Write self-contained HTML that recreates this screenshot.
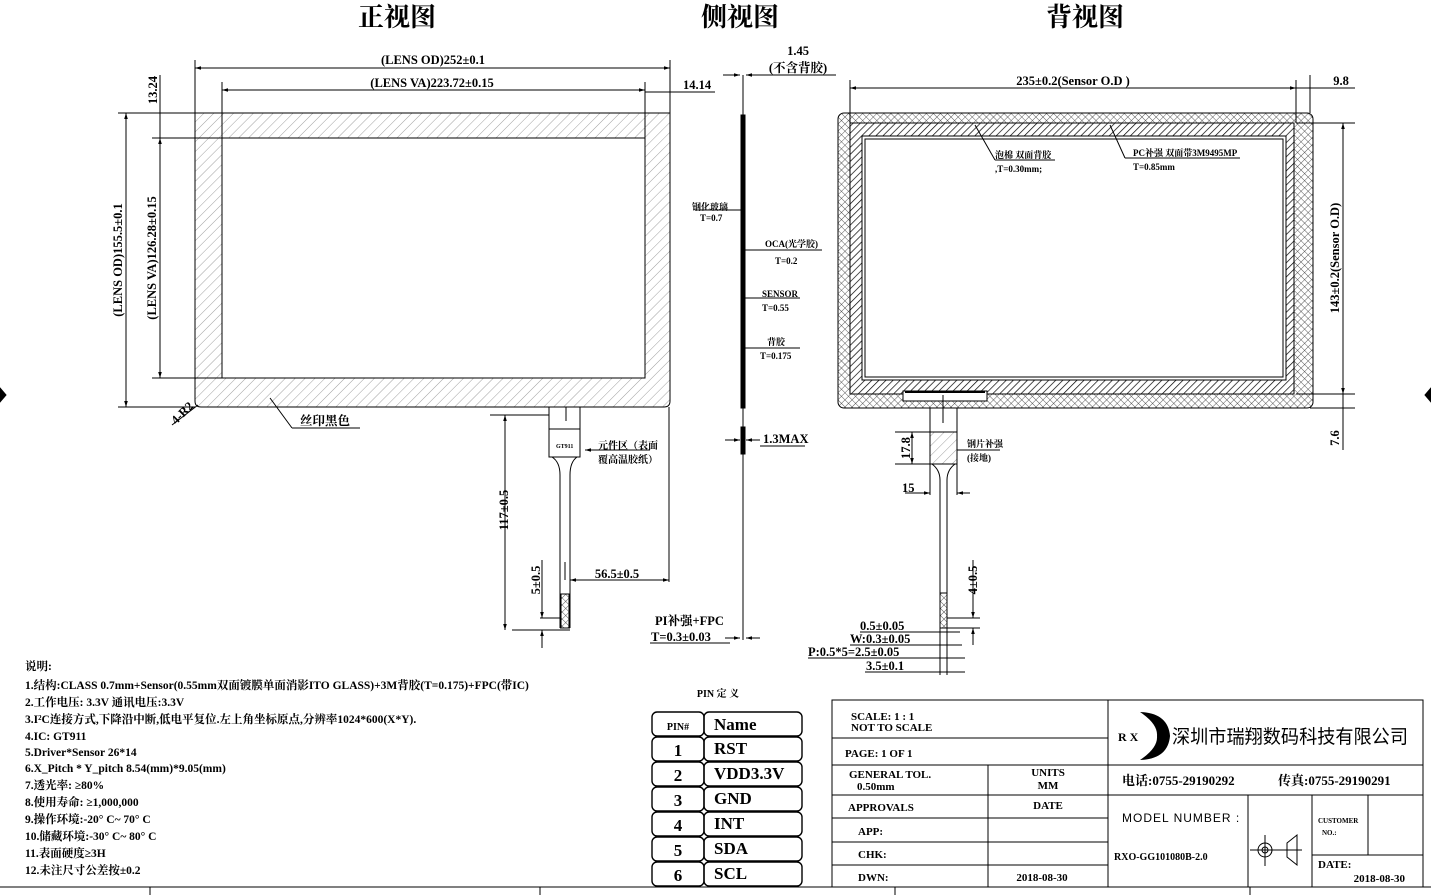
<!DOCTYPE html>
<html><head><meta charset="utf-8"><style>
html,body{margin:0;padding:0;background:#fff}
svg{display:block}
text{font-family:"Liberation Serif","Noto Serif CJK SC","Noto Sans CJK SC",serif;fill:#000}
.b{font-weight:bold}
</style></head><body>
<svg width="1431" height="895" viewBox="0 0 1431 895" xmlns="http://www.w3.org/2000/svg">
<defs>
<pattern id="h1" width="7" height="7" patternUnits="userSpaceOnUse" patternTransform="rotate(45)">
<line x1="0" y1="0" x2="0" y2="7" stroke="#888" stroke-width="0.8"/></pattern>
<pattern id="h2" width="5" height="5" patternUnits="userSpaceOnUse" patternTransform="rotate(45)">
<line x1="0" y1="0" x2="0" y2="5" stroke="#000" stroke-width="1.4"/></pattern>
<pattern id="x1" width="5" height="5" patternUnits="userSpaceOnUse" patternTransform="rotate(45)">
<line x1="0" y1="0" x2="0" y2="5" stroke="#333" stroke-width="0.8"/><line x1="0" y1="0" x2="5" y2="0" stroke="#333" stroke-width="0.8"/></pattern>
<marker id="a" viewBox="0 0 10 10" refX="10" refY="5" markerWidth="8" markerHeight="6" orient="auto-start-reverse"><path d="M0,2L10,5L0,8z" fill="#000"/></marker>
</defs>
<g stroke="#000" fill="none" stroke-width="1">
<path d="M0,388 L6,395 L0,402z M1431,388 L1425,395 L1431,402z" fill="#000"/>
<line x1="0" y1="887" x2="1431" y2="887"/>
<line x1="150" y1="887" x2="150" y2="895"/><line x1="540" y1="887" x2="540" y2="895"/><line x1="895" y1="887" x2="895" y2="895"/><line x1="1250" y1="887" x2="1250" y2="895"/>

<path d="M195,113 H670 V401 Q670,407 664,407 H201 Q195,407 195,401z M222,138 V378 H645 V138z" fill="url(#h1)" fill-rule="evenodd"/>
<rect x="222" y="138" width="423" height="240"/>
<line x1="195" y1="60" x2="195" y2="113"/><line x1="670" y1="60" x2="670" y2="113"/>
<line x1="195" y1="68" x2="670" y2="68" marker-start="url(#a)" marker-end="url(#a)"/>
<line x1="222" y1="82" x2="222" y2="138"/><line x1="645" y1="82" x2="645" y2="138"/>
<line x1="222" y1="90" x2="645" y2="90" marker-start="url(#a)" marker-end="url(#a)"/>
<line x1="645" y1="92" x2="715" y2="92"/>
<line x1="118" y1="113" x2="195" y2="113"/><line x1="118" y1="407" x2="195" y2="407"/>
<line x1="126" y1="113" x2="126" y2="407" marker-start="url(#a)" marker-end="url(#a)"/>
<line x1="152" y1="138" x2="222" y2="138"/><line x1="152" y1="378" x2="222" y2="378"/>
<line x1="160" y1="138" x2="160" y2="378" marker-start="url(#a)" marker-end="url(#a)"/>
<line x1="160" y1="75" x2="160" y2="138"/>
<line x1="172" y1="425" x2="198" y2="405"/>
<line x1="270" y1="398" x2="292" y2="428"/><line x1="292" y1="428" x2="360" y2="428"/>
<rect x="549" y="407" width="31" height="22"/><rect x="549" y="429" width="31" height="28"/>
<line x1="566" y1="407" x2="566" y2="421"/>
<path d="M552,457 Q560,462 560,475 V628 M577,457 Q570,462 570,475 V628"/>
<line x1="560" y1="628" x2="570" y2="628"/>
<rect x="561" y="594" width="8" height="34" fill="url(#x1)"/>
<line x1="512" y1="630" x2="570" y2="630"/>
<line x1="505" y1="415" x2="505" y2="630" marker-start="url(#a)" marker-end="url(#a)"/>
<line x1="490" y1="415" x2="549" y2="415"/>
<line x1="540" y1="618" x2="561" y2="618"/>
<line x1="542" y1="560" x2="542" y2="618" marker-end="url(#a)"/><line x1="542" y1="648" x2="542" y2="630" marker-end="url(#a)"/>
<line x1="669" y1="407" x2="669" y2="582"/>
<line x1="570" y1="580" x2="669" y2="580" marker-start="url(#a)" marker-end="url(#a)"/>
<line x1="565" y1="562" x2="565" y2="580"/>
<line x1="650" y1="450" x2="585" y2="450" marker-end="url(#a)"/>

<line x1="743" y1="75" x2="743" y2="640"/>
<rect x="741" y="115" width="4" height="293" fill="#000"/>
<rect x="741" y="427" width="4" height="27" fill="#000"/>
<line x1="723" y1="75" x2="740" y2="75" marker-end="url(#a)"/><line x1="770" y1="75" x2="746" y2="75" marker-end="url(#a)"/>
<line x1="746" y1="75" x2="836" y2="75"/>
<line x1="725" y1="440" x2="740" y2="440" marker-end="url(#a)"/><line x1="760" y1="440" x2="746" y2="440" marker-end="url(#a)"/>
<line x1="760" y1="446" x2="805" y2="446"/>
<line x1="725" y1="638" x2="740" y2="638" marker-end="url(#a)"/><line x1="760" y1="638" x2="746" y2="638" marker-end="url(#a)"/>
<line x1="650" y1="643" x2="730" y2="643"/>
<line x1="695" y1="210" x2="741" y2="210"/>
<line x1="745" y1="250" x2="822" y2="250"/>
<line x1="745" y1="298" x2="800" y2="298"/>
<line x1="745" y1="348" x2="800" y2="348"/>

<rect x="838" y="113" width="475" height="295" rx="6" fill="url(#x1)"/>
<rect x="850" y="123" width="444" height="271" fill="#fff"/>
<path d="M850,123 H1294 V394 H850z M862,136 V380 H1286 V136z" fill="url(#h2)" fill-rule="evenodd"/>
<rect x="862" y="136" width="424" height="244" fill="#fff"/>
<rect x="865" y="139" width="418" height="238"/>
<rect x="903" y="391" width="84" height="10" fill="#fff"/>
<line x1="905" y1="392" x2="985" y2="392" stroke-width="2"/>
<line x1="850" y1="80" x2="850" y2="123"/><line x1="1296" y1="80" x2="1296" y2="123"/><line x1="1310" y1="75" x2="1310" y2="113"/>
<line x1="850" y1="88" x2="1296" y2="88" marker-start="url(#a)" marker-end="url(#a)"/>
<line x1="1296" y1="88" x2="1355" y2="88"/>
<line x1="1296" y1="123" x2="1355" y2="123"/><line x1="1296" y1="394" x2="1355" y2="394"/><line x1="1310" y1="408" x2="1355" y2="408"/>
<line x1="1343" y1="123" x2="1343" y2="394" marker-start="url(#a)" marker-end="url(#a)"/>
<line x1="1343" y1="394" x2="1343" y2="450"/>
<line x1="975" y1="125" x2="995" y2="160"/><line x1="995" y1="160" x2="1055" y2="160"/>
<line x1="1110" y1="125" x2="1125" y2="158"/><line x1="1125" y1="158" x2="1240" y2="158"/>
<line x1="930" y1="408" x2="930" y2="432"/><line x1="957" y1="408" x2="957" y2="432"/>
<line x1="943" y1="395" x2="943" y2="423"/>
<rect x="930" y="432" width="27" height="32" fill="url(#h1)"/>
<path d="M932,464 Q940,470 940,480 V675 M955,464 Q947,470 947,480 V675"/>
<rect x="940" y="593" width="7" height="35" fill="url(#x1)"/>
<line x1="895" y1="432" x2="930" y2="432"/><line x1="895" y1="464" x2="930" y2="464"/>
<line x1="912" y1="432" x2="912" y2="464" marker-start="url(#a)" marker-end="url(#a)"/>
<line x1="957" y1="450" x2="1000" y2="450"/>
<line x1="930" y1="464" x2="930" y2="495"/><line x1="957" y1="464" x2="957" y2="495"/>
<line x1="905" y1="493" x2="930" y2="493" marker-end="url(#a)"/><line x1="970" y1="493" x2="957" y2="493" marker-end="url(#a)"/>
<line x1="947" y1="618" x2="980" y2="618"/><line x1="947" y1="628" x2="980" y2="628"/>
<line x1="973" y1="560" x2="973" y2="618" marker-end="url(#a)"/><line x1="973" y1="645" x2="973" y2="628" marker-end="url(#a)"/>
<line x1="860" y1="632" x2="960" y2="632"/><line x1="850" y1="645" x2="962" y2="645"/><line x1="808" y1="658" x2="965" y2="658"/><line x1="865" y1="672" x2="965" y2="672"/>
</g>

<text x="397" y="26" font-size="26" class="b" text-anchor="middle">正视图</text>
<text x="740" y="26" font-size="26" class="b" text-anchor="middle">侧视图</text>
<text x="1085" y="26" font-size="26" class="b" text-anchor="middle">背视图</text>

<g font-size="12.5" class="b">
<text x="433" y="64" text-anchor="middle">(LENS OD)252±0.1</text>
<text x="432" y="87" text-anchor="middle">(LENS VA)223.72±0.15</text>
<text x="697" y="89" text-anchor="middle">14.14</text>
<text transform="translate(157,90) rotate(-90)" text-anchor="middle">13.24</text>
<text transform="translate(122,260) rotate(-90)" text-anchor="middle">(LENS OD)155.5±0.1</text>
<text transform="translate(156,258) rotate(-90)" text-anchor="middle">(LENS VA)126.28±0.15</text>
<text transform="translate(176,425) rotate(-45)">4-R2</text>
<text x="300" y="425">丝印黑色</text>
<text x="556" y="448" font-size="6">GT911</text>
<text x="598" y="449" font-size="10">元件区（表面</text>
<text x="598" y="463" font-size="10">覆高温胶纸）</text>
<text transform="translate(508,510) rotate(-90)" text-anchor="middle">117±0.5</text>
<text transform="translate(540,580) rotate(-90)" text-anchor="middle">5±0.5</text>
<text x="617" y="578" text-anchor="middle">56.5±0.5</text>
<text x="798" y="55" text-anchor="middle">1.45</text>
<text x="798" y="72" text-anchor="middle">(不含背胶)</text>
<text x="692" y="210" font-size="9">钢化玻璃</text>
<text x="700" y="221" font-size="9">T=0.7</text>
<text x="765" y="247" font-size="9">OCA(光学胶)</text>
<text x="775" y="264" font-size="9">T=0.2</text>
<text x="762" y="297" font-size="9">SENSOR</text>
<text x="762" y="311" font-size="9">T=0.55</text>
<text x="767" y="345" font-size="9">背胶</text>
<text x="760" y="359" font-size="9">T=0.175</text>
<text x="763" y="443">1.3MAX</text>
<text x="655" y="625">PI补强+FPC</text>
<text x="651" y="641">T=0.3±0.03</text>
<text x="1073" y="85" text-anchor="middle">235±0.2(Sensor O.D )</text>
<text x="1341" y="85" text-anchor="middle">9.8</text>
<text transform="translate(1339,258) rotate(-90)" text-anchor="middle">143±0.2(Sensor O.D)</text>
<text transform="translate(1339,438) rotate(-90)" text-anchor="middle">7.6</text>
<text x="995" y="158" font-size="9">泡棉 双面背胶</text>
<text x="995" y="172" font-size="9">,T=0.30mm;</text>
<text x="1133" y="156" font-size="9">PC补强 双面带3M9495MP</text>
<text x="1133" y="170" font-size="9">T=0.85mm</text>
<text transform="translate(910,448) rotate(-90)" text-anchor="middle">17.8</text>
<text x="967" y="447" font-size="9">钢片补强</text>
<text x="967" y="461" font-size="9">(接地)</text>
<text x="902" y="492">15</text>
<text transform="translate(977,580) rotate(-90)" text-anchor="middle">4±0.5</text>
<text x="860" y="630">0.5±0.05</text>
<text x="850" y="643">W:0.3±0.05</text>
<text x="808" y="656">P:0.5*5=2.5±0.05</text>
<text x="866" y="670">3.5±0.1</text>
</g>

<g font-size="11.5" class="b">
<text x="25" y="670">说明:</text>
<text x="25" y="689">1.结构:CLASS 0.7mm+Sensor(0.55mm双面镀膜单面消影ITO GLASS)+3M背胶(T=0.175)+FPC(带IC)</text>
<text x="25" y="706">2.工作电压: 3.3V  通讯电压:3.3V</text>
<text x="25" y="723">3.I²C连接方式,下降沿中断,低电平复位.左上角坐标原点,分辨率1024*600(X*Y).</text>
<text x="25" y="740">4.IC: GT911</text>
<text x="25" y="756">5.Driver*Sensor 26*14</text>
<text x="25" y="772">6.X_Pitch * Y_pitch 8.54(mm)*9.05(mm)</text>
<text x="25" y="789">7.透光率: ≥80%</text>
<text x="25" y="806">8.使用寿命: ≥1,000,000</text>
<text x="25" y="823">9.操作环境:-20° C~ 70° C</text>
<text x="25" y="840">10.储藏环境:-30° C~ 80° C</text>
<text x="25" y="857">11.表面硬度≥3H</text>
<text x="25" y="874">12.未注尺寸公差按±0.2</text>
</g>

<text x="718" y="697" font-size="10" class="b" text-anchor="middle">PIN 定 义</text>
<g stroke="#000" fill="none" stroke-width="1.4">
<rect x="652" y="712" width="52" height="24" rx="5"/><rect x="704" y="712" width="98" height="24" rx="5"/>
<rect x="652" y="737" width="52" height="24" rx="5"/><rect x="704" y="737" width="98" height="24" rx="5"/>
<rect x="652" y="762" width="52" height="24" rx="5"/><rect x="704" y="762" width="98" height="24" rx="5"/>
<rect x="652" y="787" width="52" height="24" rx="5"/><rect x="704" y="787" width="98" height="24" rx="5"/>
<rect x="652" y="812" width="52" height="24" rx="5"/><rect x="704" y="812" width="98" height="24" rx="5"/>
<rect x="652" y="837" width="52" height="24" rx="5"/><rect x="704" y="837" width="98" height="24" rx="5"/>
<rect x="652" y="862" width="52" height="24" rx="5"/><rect x="704" y="862" width="98" height="24" rx="5"/>
</g>
<g font-size="17" class="b">
<text x="678" y="730" font-size="10" text-anchor="middle">PIN#</text>
<text x="714" y="730">Name</text>
<text x="678" y="756" text-anchor="middle">1</text><text x="714" y="754">RST</text>
<text x="678" y="781" text-anchor="middle">2</text><text x="714" y="779">VDD3.3V</text>
<text x="678" y="806" text-anchor="middle">3</text><text x="714" y="804">GND</text>
<text x="678" y="831" text-anchor="middle">4</text><text x="714" y="829">INT</text>
<text x="678" y="856" text-anchor="middle">5</text><text x="714" y="854">SDA</text>
<text x="678" y="881" text-anchor="middle">6</text><text x="714" y="879">SCL</text>
</g>

<g stroke="#000" fill="none" stroke-width="1">
<rect x="832" y="700" width="591" height="187"/>
<line x1="1108" y1="700" x2="1108" y2="887"/>
<line x1="832" y1="738" x2="1108" y2="738"/>
<line x1="832" y1="765" x2="1423" y2="765"/>
<line x1="832" y1="795" x2="1423" y2="795"/>
<line x1="832" y1="818" x2="1108" y2="818"/>
<line x1="832" y1="842" x2="1108" y2="842"/>
<line x1="832" y1="865" x2="1108" y2="865"/>
<line x1="988" y1="765" x2="988" y2="887"/>
<line x1="1248" y1="795" x2="1248" y2="887"/>
<line x1="1312" y1="795" x2="1312" y2="887"/>
<line x1="1368" y1="795" x2="1368" y2="855"/>
<line x1="1312" y1="855" x2="1423" y2="855"/>
<circle cx="1265" cy="850" r="7"/><circle cx="1265" cy="850" r="3"/>
<line x1="1250" y1="850" x2="1302" y2="850"/><line x1="1265" y1="835" x2="1265" y2="866"/>
<path d="M1287,843 L1297,835 V865 L1287,857z"/>
</g>
<path d="M1140,712 Q1168,713 1170,736 Q1168,759 1140,760 Q1158,748 1157,736 Q1158,724 1140,712z" fill="#000"/>
<g font-size="11" class="b">
<text x="851" y="720">SCALE: 1 : 1</text>
<text x="851" y="731">NOT TO SCALE</text>
<text x="845" y="757">PAGE:  1 OF 1</text>
<text x="849" y="778">GENERAL TOL.</text>
<text x="857" y="790">0.50mm</text>
<text x="1048" y="776" text-anchor="middle">UNITS</text>
<text x="1048" y="789" text-anchor="middle">MM</text>
<text x="848" y="811">APPROVALS</text>
<text x="1048" y="809" text-anchor="middle">DATE</text>
<text x="858" y="835">APP:</text>
<text x="858" y="858">CHK:</text>
<text x="858" y="881">DWN:</text>
<text x="1042" y="881" text-anchor="middle">2018-08-30</text>
<text x="1118" y="741" font-size="12">R X</text>
<text x="1172" y="743" font-size="19" font-weight="normal" textLength="236" lengthAdjust="spacingAndGlyphs" style="font-family:'Noto Sans CJK SC',sans-serif">深圳市瑞翔数码科技有限公司</text>
<text x="1122" y="785" font-size="13">电话:0755-29190292</text>
<text x="1278" y="785" font-size="13">传真:0755-29190291</text>
<text x="1122" y="822" font-size="12" font-weight="normal" style="font-family:'Liberation Sans',sans-serif;letter-spacing:1px">MODEL NUMBER :</text>
<text x="1114" y="860" font-size="10">RXO-GG101080B-2.0</text>
<text x="1318" y="823" font-size="7">CUSTOMER</text>
<text x="1322" y="835" font-size="7">NO.:</text>
<text x="1318" y="868">DATE:</text>
<text x="1405" y="882" text-anchor="end">2018-08-30</text>
</g>
</svg>
</body></html>
